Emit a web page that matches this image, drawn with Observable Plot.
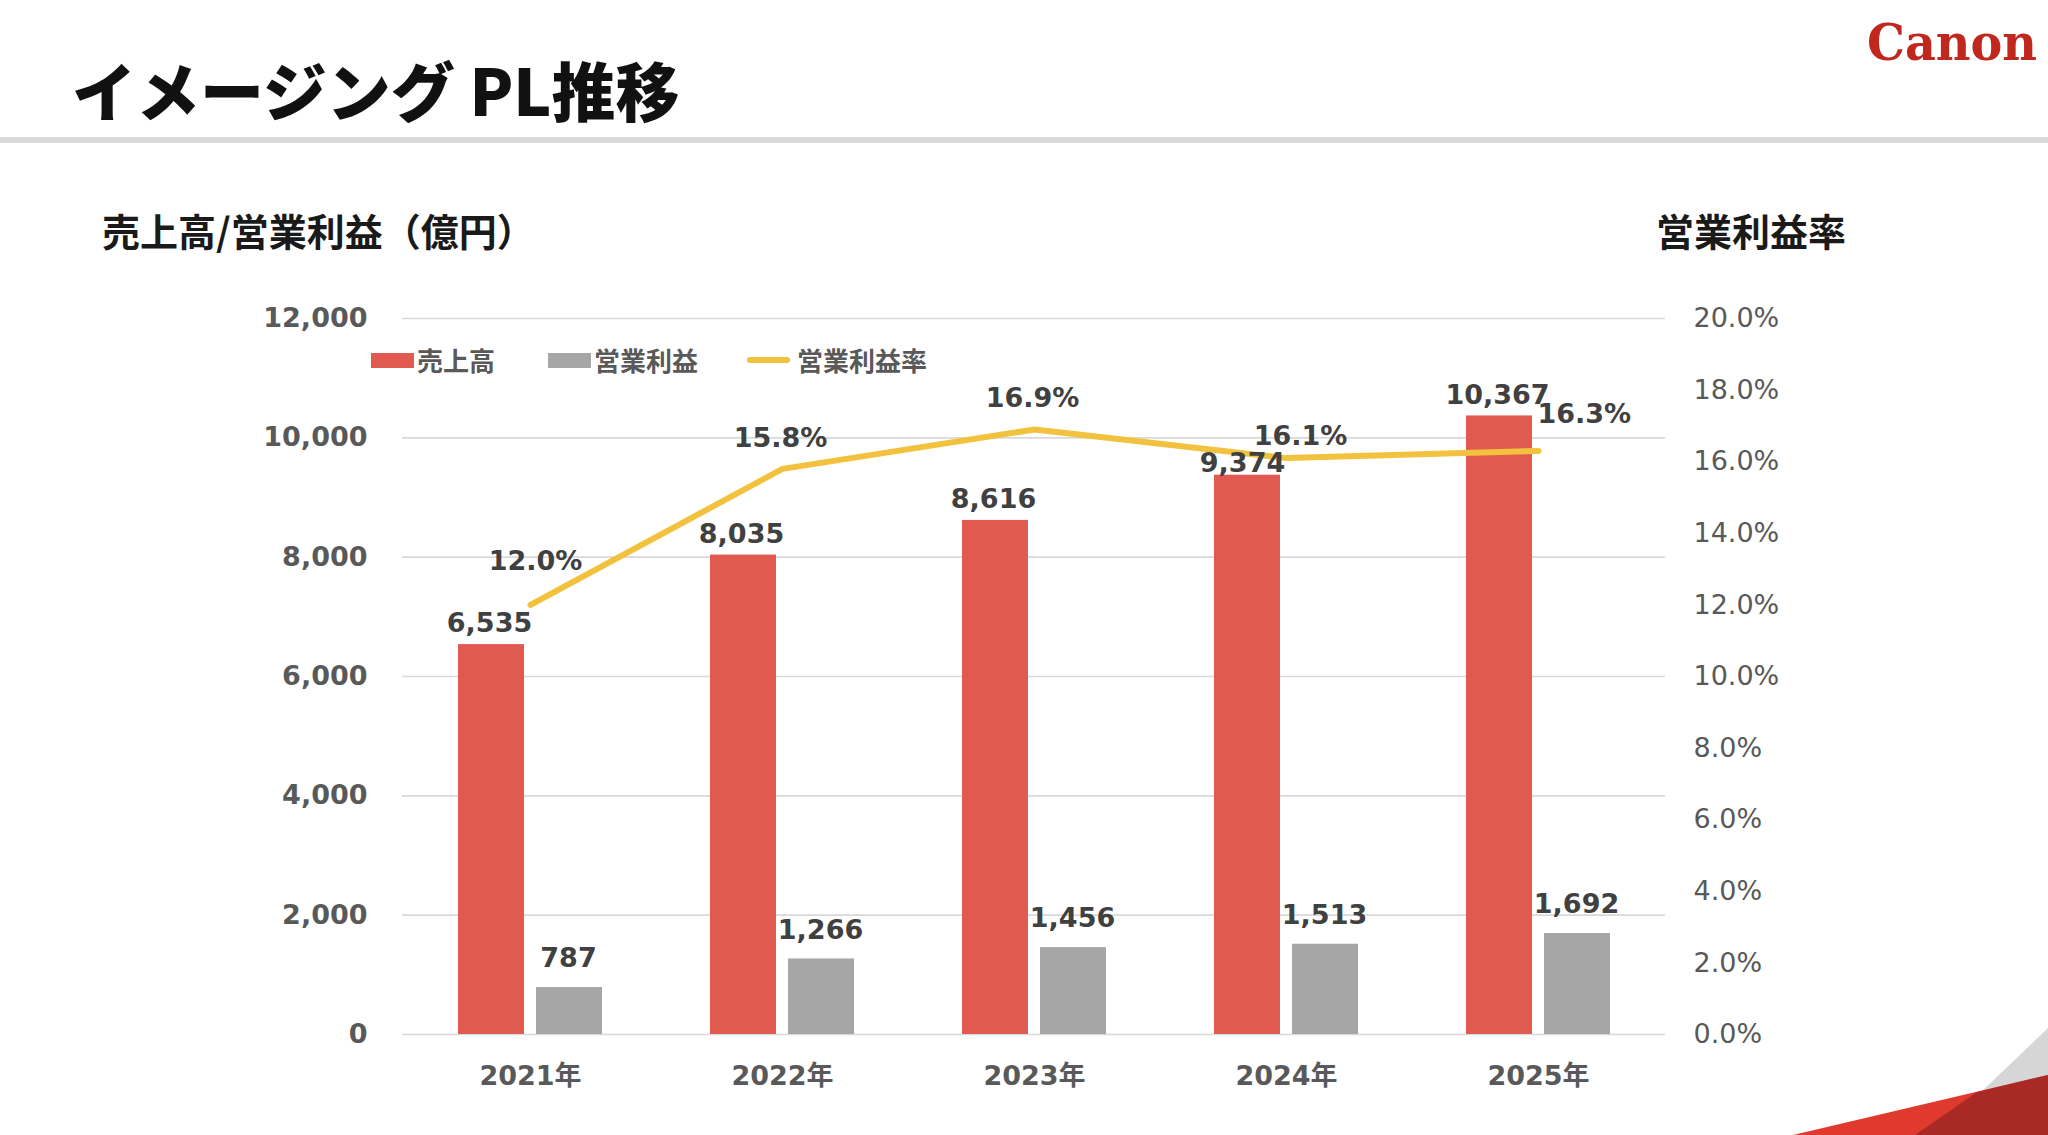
<!DOCTYPE html>
<html><head><meta charset="utf-8">
<script src="https://cdn.jsdelivr.net/npm/d3@7"></script>
<script src="https://cdn.jsdelivr.net/npm/@observablehq/plot@0.6"></script>
<style>
body{margin:0;background:#fff;}
#wrap{position:relative;width:2048px;height:1135px;overflow:hidden;font-family:"Noto Sans CJK JP",sans-serif;}
.t{position:absolute;white-space:nowrap;line-height:1;}
#chart{position:absolute;left:0;top:0;}
#deco{position:absolute;left:0;top:0;}
</style></head><body>
<div id="wrap">
  <div id="chart"></div>
  <svg id="deco" width="2048" height="1135"></svg>
  <div class="t" style="left:72px;top:56px;font-size:64px;font-weight:900;color:#111;">イメージング PL推移</div>
  <div class="t" style="left:102px;top:211px;font-size:38px;font-weight:bold;color:#1a1a1a;">売上高/営業利益（億円）</div>
  <div class="t" style="left:1656px;top:211px;font-size:38px;font-weight:bold;color:#1a1a1a;">営業利益率</div>
  <div id="legend"></div>
</div>
<script>
const years = ["2021年","2022年","2023年","2024年","2025年"];
const sales = [6535, 8035, 8616, 9374, 10367];
const profit = [787, 1266, 1456, 1513, 1692];
const margin = [12.0, 15.8, 16.9, 16.1, 16.3];
const leftTicks = [0, 2000, 4000, 6000, 8000, 10000, 12000];
const rightTicks = [0, 2, 4, 6, 8, 10, 12, 14, 16, 18, 20];
const seriesNames = ["売上高", "営業利益", "営業利益率"];
const colors = ["#e15a4f", "#a6a6a6", "#f2c13e"];

const yMax = 12000, pMax = 20;
const rows = years.map((year, i) => ({year, sales: sales[i], profit: profit[i], margin: margin[i], i}));
const pY = d => d.margin / pMax * yMax;
const labelStyle = {fontSize: 27, fontWeight: "bold", fill: "#404040"};

const chart = Plot.plot({
  width: 2048, height: 1135,
  marginLeft: 402, marginRight: 383, marginTop: 318, marginBottom: 101,
  x: {domain: years, padding: 0, label: null},
  y: {domain: [0, yMax], label: null},
  style: {fontFamily: '"DejaVu Sans","Noto Sans CJK JP",sans-serif', background: "transparent"},
  marks: [
    Plot.ruleY(leftTicks, {stroke: "#d9d9d9", strokeWidth: 1.6}),
    Plot.axisY({ticks: leftTicks, tickSize: 0, tickPadding: 35, tickFormat: d3.format(","), fontSize: 27, fontWeight: "bold", color: "#595959", label: null}),
    Plot.axisY({anchor: "right", ticks: rightTicks.map(p => p / pMax * yMax), tickSize: 0, tickPadding: 28,
      tickFormat: v => (v / yMax * pMax).toFixed(1) + "%", fontSize: 27, color: "#595959", label: null}),
    Plot.axisX({tickSize: 0, tickPadding: 31, fontSize: 27, fontWeight: "bold", color: "#595959", label: null}),
    Plot.barY(rows, {x: "year", y: "sales", fill: colors[0], insetLeft: 93, insetRight: 93, dx: -39}),
    Plot.barY(rows, {x: "year", y: "profit", fill: colors[1], insetLeft: 93, insetRight: 93, dx: 39}),
    Plot.line(rows, {x: "year", y: pY, stroke: colors[2], strokeWidth: 6, strokeLinecap: "round", strokeLinejoin: "round"}),
    Plot.text(rows, {filter: d => d.i !== 3, x: "year", y: "sales", text: d => d3.format(",")(d.sales), dx: -41, dy: -21, ...labelStyle}),
    Plot.text(rows, {filter: d => d.i === 3, x: "year", y: "sales", text: d => d3.format(",")(d.sales), dx: -44, dy: -12, ...labelStyle}),
    Plot.text(rows, {x: "year", y: "profit", text: d => d3.format(",")(d.profit), dx: 38, dy: -29, ...labelStyle}),
    Plot.text(rows, {filter: d => d.i === 0, x: "year", y: pY, text: d => d.margin.toFixed(1) + "%", dx: 5, dy: -44, ...labelStyle}),
    Plot.text(rows, {filter: d => d.i === 1 || d.i === 2, x: "year", y: pY, text: d => d.margin.toFixed(1) + "%", dx: -2, dy: -31, ...labelStyle}),
    Plot.text(rows, {filter: d => d.i === 3, x: "year", y: pY, text: d => d.margin.toFixed(1) + "%", dx: 14, dy: -22, ...labelStyle}),
    Plot.text(rows, {filter: d => d.i === 4, x: "year", y: pY, text: d => d.margin.toFixed(1) + "%", dx: -1, dy: -37, textAnchor: "start", ...labelStyle})
  ]
});
document.getElementById("chart").appendChild(chart);

// legend
const legend = document.getElementById("legend");
const legendItems = [
  {name: seriesNames[0], color: colors[0], kind: "box", sx: 371, tx: 417},
  {name: seriesNames[1], color: colors[1], kind: "box", sx: 548, tx: 594},
  {name: seriesNames[2], color: colors[2], kind: "line", sx: 747, tx: 797}
];
legendItems.forEach(it => {
  const sw = document.createElement("div");
  sw.style.position = "absolute";
  sw.style.left = it.sx + "px";
  sw.style.width = "43px";
  sw.style.background = it.color;
  if (it.kind === "box") { sw.style.top = "353px"; sw.style.height = "15px"; }
  else { sw.style.top = "357px"; sw.style.height = "6px"; sw.style.borderRadius = "3px"; }
  legend.appendChild(sw);
  const tx = document.createElement("div");
  tx.className = "t";
  tx.style.left = it.tx + "px"; tx.style.top = "347px";
  tx.style.fontSize = "26px"; tx.style.fontWeight = "bold"; tx.style.color = "#595959";
  tx.textContent = it.name;
  legend.appendChild(tx);
});

// decorations
const deco = d3.select("#deco");
deco.append("rect").attr("x", 0).attr("y", 137).attr("width", 2048).attr("height", 6).attr("fill", "#d9d9d9");
deco.append("text").attr("x", 1867).attr("y", 60).attr("font-family", "DejaVu Serif").attr("font-weight", "bold")
  .attr("font-size", 50).attr("fill", "#c0281e").attr("textLength", 170).attr("lengthAdjust", "spacingAndGlyphs").text("Canon");
deco.append("polygon").attr("points", "2048,1028 1980,1093 2048,1076").attr("fill", "#d6d6d6");
deco.append("polygon").attr("points", "1793,1135 2048,1075 2048,1135").attr("fill", "#e03a2f");
deco.append("polygon").attr("points", "1977,1092 2048,1075 2048,1135 1915,1135").attr("fill", "#a92a24");
</script>
</body></html>
